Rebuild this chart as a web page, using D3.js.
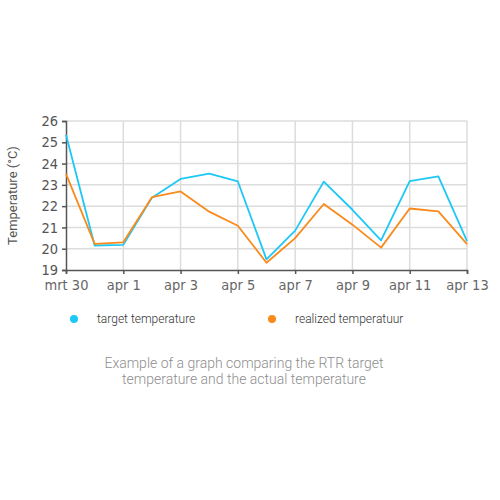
<!DOCTYPE html>
<html>
<head>
<meta charset="utf-8">
<script src="https://cdn.jsdelivr.net/npm/d3@7"></script>
<style>
  body { margin: 0; background: #fff; }
  svg text { font-family: "DejaVu Sans Condensed", "Roboto Condensed", Roboto, sans-serif; }
</style>
</head>
<body>
<svg width="500" height="500"></svg>
<script>
// days from mrt 30 to apr 13
const days = d3.range(0, 15);
const tickLabels = ['mrt 30','apr 1','apr 3','apr 5','apr 7','apr 9','apr 11','apr 13'];
const target = [25.35, 20.15, 20.18, 22.4, 23.28, 23.53, 23.16, 19.5, 20.85, 23.15, 21.83, 20.39, 23.18, 23.4, 20.36];
const realized = [23.52, 20.23, 20.3, 22.42, 22.69, 21.74, 21.08, 19.34, 20.5, 22.1, 21.13, 20.05, 21.89, 21.75, 20.22];
const yTicks = [19, 20, 21, 22, 23, 24, 25, 26];
const seriesNames = ['target temperature', 'realized temperatuur'];
const colors = ['#1ec8f5', '#f98a1c'];

const plotL = 66, plotR = 467, plotT = 121, plotB = 270;
const svg = d3.select('svg');

const x = d3.scaleLinear().domain([0, 14]).range([plotL, plotR]);
const y = d3.scaleLinear().domain([19, 26]).range([plotB, plotT]);

// grid
const grid = svg.append('g');
grid.selectAll('.h').data(yTicks.slice(1)).enter().append('line')
  .attr('x1', plotL).attr('x2', plotR)
  .attr('y1', d => y(d)).attr('y2', d => y(d))
  .attr('stroke', '#dcdcdc').attr('stroke-width', 1.5);
grid.selectAll('.v').data(d3.range(2, 15, 2)).enter().append('line')
  .attr('x1', d => x(d)).attr('x2', d => x(d))
  .attr('y1', plotT).attr('y2', plotB)
  .attr('stroke', '#dcdcdc').attr('stroke-width', 1.5);

// axes
const yAxis = svg.append('g')
  .attr('transform', `translate(${plotL},0)`)
  .call(d3.axisLeft(y).tickValues(yTicks).tickSize(4).tickPadding(4).tickFormat(d3.format('d')));
const xAxis = svg.append('g')
  .attr('transform', `translate(0,${plotB})`)
  .call(d3.axisBottom(x).tickValues(d3.range(0, 15, 2)).tickSize(4).tickPadding(6)
    .tickFormat((d, i) => tickLabels[i]));
[yAxis, xAxis].forEach(a => {
  a.select('.domain').attr('stroke', '#555').attr('stroke-width', 1.5);
  a.selectAll('.tick line').attr('stroke', '#555').attr('stroke-width', 1.5);
  a.selectAll('text').attr('fill', '#666').style('font-size', '14.5px')
    .style('font-family', '"DejaVu Sans Condensed", Roboto, sans-serif');
});
yAxis.selectAll('text').attr('fill', '#555');

svg.append('text')
  .attr('transform', `translate(17,${(plotT + plotB) / 2}) rotate(-90)`)
  .attr('text-anchor', 'middle')
  .attr('fill', '#555').style('font-size', '13px')
  .style('font-family', 'Roboto, sans-serif')
  .text('Temperature (°C)');

// lines
const line = d3.line().x((d, i) => x(days[i])).y(d => y(d));
[target, realized].forEach((s, k) => {
  svg.append('path').datum(s)
    .attr('d', line)
    .attr('fill', 'none')
    .attr('stroke', colors[k])
    .attr('stroke-width', 1.8)
    .attr('stroke-linejoin', 'round');
});

// legend
const legX = [74, 272];
seriesNames.forEach((n, k) => {
  svg.append('circle').attr('cx', legX[k]).attr('cy', 319).attr('r', 4).attr('fill', colors[k]);
  svg.append('text').attr('x', legX[k] + 23).attr('y', 323)
    .attr('fill', '#333').style('font-size', '12px')
    .style('font-family', 'Roboto, sans-serif').style('font-weight', 300)
    .text(n);
});

// caption
const caption = ['Example of a graph comparing the RTR target', 'temperature and the actual temperature'];
caption.forEach((c, i) => {
  svg.append('text').attr('x', 244).attr('y', 368 + i * 16)
    .attr('text-anchor', 'middle')
    .attr('fill', '#8e8e8e').style('font-size', '14px')
    .style('font-family', 'Roboto, sans-serif').style('font-weight', 300)
    .text(c);
});
</script>
</body>
</html>
